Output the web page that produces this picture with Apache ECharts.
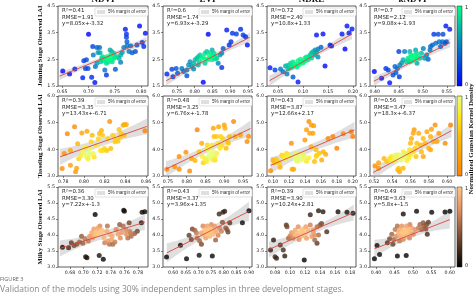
<!DOCTYPE html>
<html>
<head>
<meta charset="utf-8">
<script src="https://cdn.jsdelivr.net/npm/echarts@6/dist/echarts.min.js"></script>
<style>
  html, body { margin: 0; padding: 0; background: #fff; }
  #chart { width: 474px; height: 299px; }
</style>
</head>
<body>
<div id="chart"></div>
<script>
// column / row labels
const indices = ['NDVI', 'EVI', 'NDRE', 'kNDVI'];
const stageNames = ['Jointing Stage Observed LAI', 'Tasseling Stage Observed LAI', 'Milky Stage Observed LAI'];

// y axis per row: [min, max]
const yRanges = [[1.5, 4.5], [3.0, 6.0], [3.0, 5.5]];
const yTicks = [
  [1.5, 2.5, 3.5, 4.5],
  [3.0, 4.0, 5.0, 6.0],
  [3.0, 3.5, 4.0, 4.5, 5.0, 5.5]
];

// x axis per panel (row-major): [min, max]
const xRanges = [
  [0.642, 0.813], [0.711, 0.961], [0.028, 0.206], [0.390, 0.567],
  [0.775, 0.862], [0.737, 0.974], [0.0925, 0.204], [0.5156, 0.6088],
  [0.6624, 0.7947], [0.560, 0.912], [0.0693, 0.188], [0.384, 0.614]
];
const xTicks = [
  [0.65, 0.70, 0.75, 0.80], [0.75, 0.80, 0.85, 0.90, 0.95], [0.05, 0.10, 0.15, 0.20], [0.40, 0.45, 0.50, 0.55],
  [0.78, 0.80, 0.82, 0.84, 0.86], [0.75, 0.80, 0.85, 0.90, 0.95], [0.10, 0.12, 0.14, 0.16, 0.18, 0.20], [0.52, 0.54, 0.56, 0.58, 0.60],
  [0.68, 0.70, 0.72, 0.74, 0.76, 0.78], [0.60, 0.65, 0.70, 0.75, 0.80, 0.85, 0.90], [0.08, 0.10, 0.12, 0.14, 0.16, 0.18], [0.40, 0.45, 0.50, 0.55, 0.60]
];

// stats text
const r2Labels = ['0.41', '0.6', '0.72', '0.7', '0.39', '0.48', '0.43', '0.56', '0.36', '0.43', '0.39', '0.49'];
const rmseLabels = ['1.91', '1.74', '2.40', '2.12', '3.35', '3.25', '3.87', '3.47', '3.30', '3.37', '3.90', '3.63'];
const eqLabels = ['8.05x+-3.32', '6.93x+-3.29', '10.8x+1.33', '9.08x+-1.93',
                  '13.43x+-6.71', '6.76x+-1.78', '12.66x+2.17', '18.3x+-6.37',
                  '7.22x+-1.3', '3.96x+1.35', '10.24x+2.81', '5.8x+-1.5'];

// drawn fit lines [x0, y0, x1, y1] and band half widths [centre, ends]
const fitLines = [
  [0.645, 1.87, 0.810, 3.20], [0.720, 1.70, 0.955, 3.33], [0.033, 1.70, 0.198, 3.45], [0.398, 1.68, 0.557, 3.13],
  [0.777, 3.72, 0.861, 4.86], [0.745, 3.26, 0.970, 4.78], [0.097, 3.40, 0.202, 4.73], [0.519, 3.13, 0.605, 4.70],
  [0.665, 3.58, 0.790, 4.40], [0.575, 3.44, 0.900, 4.74], [0.072, 3.55, 0.185, 4.70], [0.396, 3.57, 0.600, 4.48]
];
const bandWidths = [
  [0.07, 0.15], [0.08, 0.18], [0.08, 0.20], [0.08, 0.18],
  [0.15, 0.30], [0.12, 0.30], [0.15, 0.30], [0.12, 0.25],
  [0.12, 0.25], [0.12, 0.30], [0.10, 0.25], [0.10, 0.28]
];

// observed vs estimated points
const jointNDVI = [[0.651,2.06],[0.664,1.95],[0.674,2.14],[0.689,1.81],[0.691,2.45],[0.694,2.16],[0.696,2.48],[0.699,2.16],[0.700,3.44],[0.706,1.83],[0.708,2.98],[0.709,2.66],[0.712,1.63],[0.716,2.94],[0.718,2.76],[0.721,2.94],[0.722,2.75],[0.716,2.35],[0.723,2.41],[0.727,2.60],[0.731,2.10],[0.734,1.91],[0.732,2.48],[0.735,2.60],[0.739,2.54],[0.742,2.66],[0.734,2.35],[0.745,2.41],[0.748,2.54],[0.751,2.13],[0.741,2.85],[0.744,2.79],[0.748,2.73],[0.754,2.60],[0.758,2.54],[0.761,2.66],[0.764,2.76],[0.761,2.39],[0.767,2.94],[0.770,3.63],[0.772,3.45],[0.772,3.33],[0.773,3.16],[0.773,3.01],[0.777,2.79],[0.780,3.01],[0.783,2.75],[0.789,2.79],[0.792,3.04],[0.797,3.75],[0.802,3.13],[0.805,2.98],[0.808,3.48],[0.713,2.23],[0.728,2.45],[0.738,2.50],[0.743,2.47],[0.725,2.55],[0.737,2.40],[0.750,2.58]];
const jointEVI = [[0.722,1.95],[0.736,2.13],[0.748,2.16],[0.739,1.85],[0.752,1.98],[0.764,2.16],[0.778,2.10],[0.778,1.88],[0.783,2.29],[0.787,2.41],[0.792,2.23],[0.797,2.35],[0.801,2.48],[0.806,2.54],[0.810,2.60],[0.815,2.66],[0.813,2.41],[0.820,2.54],[0.824,2.60],[0.829,2.73],[0.834,2.79],[0.836,2.48],[0.841,2.66],[0.845,2.75],[0.849,2.85],[0.851,2.60],[0.854,2.73],[0.838,3.44],[0.824,1.64],[0.857,2.51],[0.862,2.54],[0.871,2.66],[0.876,2.19],[0.880,2.91],[0.890,3.60],[0.897,3.04],[0.902,3.16],[0.906,3.48],[0.917,3.45],[0.929,3.63],[0.936,3.41],[0.943,3.35],[0.948,3.04],[0.876,2.73],[0.866,2.35],[0.848,2.48],[0.829,2.35],[0.810,2.29],[0.797,2.14],[0.769,2.04],[0.843,2.55],[0.832,2.50],[0.856,2.62]];
const jointNDRE = [[0.034,2.18],[0.044,2.10],[0.055,2.14],[0.060,2.03],[0.068,1.95],[0.074,2.18],[0.078,2.29],[0.080,1.84],[0.088,2.21],[0.090,1.65],[0.094,2.36],[0.097,2.40],[0.100,2.36],[0.104,2.55],[0.107,2.59],[0.110,2.48],[0.114,2.66],[0.117,2.74],[0.120,2.78],[0.124,2.85],[0.127,2.78],[0.130,2.89],[0.127,3.41],[0.117,2.55],[0.124,2.66],[0.130,2.59],[0.140,3.45],[0.144,2.25],[0.154,3.04],[0.157,3.00],[0.178,3.45],[0.184,2.89],[0.188,3.75],[0.192,3.49],[0.198,3.64],[0.070,2.28],[0.075,2.35],[0.080,2.40],[0.085,2.32],[0.090,2.45],[0.085,2.25],[0.078,2.20],[0.092,2.30],[0.095,2.50],[0.100,2.42],[0.070,2.15],[0.065,2.25],[0.112,2.60],[0.105,2.45],[0.136,2.95]];
const jointKNDVI = [[0.399,2.04],[0.414,1.79],[0.423,2.16],[0.428,2.10],[0.431,1.62],[0.438,1.91],[0.442,2.23],[0.444,2.00],[0.447,2.16],[0.451,1.85],[0.452,2.29],[0.456,2.37],[0.459,2.48],[0.462,2.79],[0.466,2.41],[0.469,2.54],[0.473,2.41],[0.475,2.66],[0.476,2.60],[0.480,2.50],[0.483,2.66],[0.485,2.85],[0.487,2.73],[0.488,2.35],[0.490,2.60],[0.494,2.54],[0.497,2.73],[0.501,2.91],[0.504,2.54],[0.508,2.66],[0.511,2.50],[0.515,2.85],[0.516,2.98],[0.520,3.04],[0.523,3.44],[0.527,3.10],[0.532,3.44],[0.534,3.16],[0.537,2.98],[0.541,3.16],[0.542,3.44],[0.546,3.10],[0.549,3.16],[0.548,3.75],[0.556,3.63],[0.473,2.79],[0.450,2.79],[0.478,2.45],[0.482,2.55],[0.470,2.47],[0.486,2.52]];

const tasselNDVI = [[0.779,3.28],[0.781,3.84],[0.784,4.58],[0.787,3.96],[0.787,3.40],[0.791,4.85],[0.792,3.16],[0.793,3.29],[0.794,4.21],[0.795,3.65],[0.798,4.61],[0.799,3.90],[0.801,4.09],[0.802,3.78],[0.803,4.68],[0.804,3.65],[0.806,4.03],[0.807,4.28],[0.808,4.53],[0.809,3.84],[0.810,3.71],[0.812,4.15],[0.814,4.40],[0.815,4.59],[0.816,3.96],[0.817,4.71],[0.818,3.96],[0.818,4.53],[0.820,4.03],[0.822,3.96],[0.823,4.40],[0.825,5.04],[0.826,4.03],[0.828,4.53],[0.830,4.28],[0.831,4.34],[0.833,4.30],[0.834,4.74],[0.835,4.46],[0.836,4.59],[0.838,4.90],[0.839,4.93],[0.841,4.93],[0.839,4.53],[0.859,4.70],[0.797,3.75],[0.800,3.85],[0.803,3.70],[0.806,3.80],[0.799,3.95],[0.805,3.88]];
const tasselEVI = [[0.747,3.25],[0.768,3.35],[0.780,3.73],[0.780,3.25],[0.798,3.89],[0.808,3.19],[0.813,3.66],[0.822,3.58],[0.828,4.73],[0.833,3.91],[0.840,4.23],[0.842,3.73],[0.849,3.66],[0.853,3.98],[0.855,4.16],[0.860,3.85],[0.862,4.04],[0.867,4.16],[0.871,4.79],[0.873,4.48],[0.876,3.60],[0.880,4.48],[0.883,4.23],[0.885,4.85],[0.889,4.04],[0.891,4.48],[0.894,4.16],[0.896,4.41],[0.900,4.91],[0.902,4.79],[0.905,4.04],[0.909,4.29],[0.911,4.23],[0.914,4.48],[0.925,5.04],[0.929,4.48],[0.943,4.54],[0.961,4.29],[0.965,4.48],[0.862,3.66],[0.853,3.54],[0.844,3.50],[0.850,3.60],[0.868,3.80],[0.858,3.72],[0.872,3.90],[0.875,3.70],[0.871,3.60],[0.880,3.85]];
const tasselNDRE = [[0.097,3.20],[0.100,3.60],[0.102,3.50],[0.104,3.63],[0.106,3.54],[0.108,3.48],[0.109,3.33],[0.111,3.79],[0.113,3.73],[0.115,3.66],[0.117,3.85],[0.119,3.79],[0.121,3.73],[0.123,4.23],[0.124,3.25],[0.126,3.25],[0.127,3.73],[0.129,3.85],[0.131,3.60],[0.133,3.73],[0.136,3.79],[0.138,3.66],[0.140,4.35],[0.142,4.73],[0.145,5.04],[0.146,4.60],[0.148,4.10],[0.151,4.88],[0.152,3.54],[0.154,3.73],[0.148,4.91],[0.150,4.60],[0.154,3.98],[0.155,3.79],[0.158,3.85],[0.161,3.60],[0.163,3.91],[0.166,3.82],[0.169,4.41],[0.175,4.48],[0.180,4.04],[0.188,4.58],[0.198,4.66],[0.200,4.48],[0.130,3.55],[0.135,3.60],[0.140,3.70],[0.128,3.65],[0.142,3.55],[0.138,3.80],[0.145,3.68]];
const tasselKNDVI = [[0.521,3.38],[0.525,3.50],[0.525,3.29],[0.531,3.66],[0.534,3.54],[0.537,3.66],[0.538,3.60],[0.539,3.73],[0.541,3.60],[0.543,3.66],[0.544,3.79],[0.546,3.23],[0.547,3.29],[0.548,3.16],[0.549,3.73],[0.550,3.60],[0.552,3.91],[0.552,3.29],[0.554,3.73],[0.556,3.85],[0.558,3.66],[0.559,3.98],[0.560,4.23],[0.560,3.79],[0.561,4.41],[0.563,4.60],[0.563,3.91],[0.564,4.73],[0.565,4.04],[0.566,3.73],[0.567,4.23],[0.569,4.60],[0.571,4.16],[0.572,3.91],[0.574,4.41],[0.574,3.73],[0.576,4.23],[0.578,4.66],[0.580,4.04],[0.582,4.48],[0.582,3.98],[0.583,4.75],[0.585,4.29],[0.587,4.91],[0.589,4.29],[0.591,4.60],[0.598,4.23],[0.604,4.91],[0.545,3.70],[0.548,3.62],[0.552,3.68],[0.556,3.58],[0.550,3.75],[0.542,3.55],[0.558,3.72],[0.547,3.80]];

const milkyNDVI = [[0.669,3.62],[0.678,3.60],[0.682,3.76],[0.686,3.67],[0.690,3.71],[0.694,3.78],[0.697,3.96],[0.699,3.74],[0.702,3.88],[0.703,3.32],[0.705,3.29],[0.707,3.81],[0.709,3.96],[0.712,4.07],[0.713,3.91],[0.715,4.19],[0.717,4.64],[0.718,4.02],[0.720,4.17],[0.721,4.22],[0.723,3.36],[0.724,4.28],[0.726,4.07],[0.729,3.24],[0.730,3.91],[0.731,3.76],[0.734,4.12],[0.735,4.28],[0.736,3.81],[0.738,3.71],[0.739,4.02],[0.741,3.86],[0.742,3.96],[0.743,3.71],[0.746,3.78],[0.748,4.17],[0.751,4.02],[0.753,4.33],[0.754,3.91],[0.756,4.08],[0.758,4.28],[0.759,4.77],[0.760,4.74],[0.762,4.17],[0.763,4.02],[0.765,3.91],[0.767,4.38],[0.768,4.12],[0.769,4.05],[0.770,3.96],[0.775,4.05],[0.779,4.12],[0.785,4.38],[0.786,4.71],[0.790,4.73],[0.719,4.10],[0.722,4.05],[0.727,4.15],[0.716,4.00]];
const milkyEVI = [[0.574,3.31],[0.629,3.68],[0.653,3.26],[0.663,3.99],[0.672,3.86],[0.676,4.19],[0.686,4.15],[0.692,4.07],[0.695,3.91],[0.703,3.37],[0.705,3.81],[0.712,3.71],[0.712,4.07],[0.718,4.28],[0.721,4.02],[0.725,4.17],[0.729,3.91],[0.732,4.12],[0.734,4.28],[0.738,4.05],[0.742,4.22],[0.745,3.96],[0.749,4.12],[0.751,4.33],[0.755,3.34],[0.758,4.02],[0.762,4.17],[0.764,4.28],[0.768,3.84],[0.771,4.10],[0.778,3.99],[0.782,4.66],[0.784,4.22],[0.791,4.12],[0.795,4.40],[0.797,4.71],[0.804,4.74],[0.808,4.22],[0.813,4.17],[0.817,4.09],[0.824,4.38],[0.874,4.38],[0.900,4.76],[0.728,4.10],[0.740,4.15],[0.735,4.00],[0.748,4.05]];
const milkyNDRE = [[0.074,3.53],[0.078,3.84],[0.080,3.32],[0.082,3.27],[0.087,3.69],[0.091,3.53],[0.093,3.34],[0.095,4.31],[0.096,4.26],[0.098,3.90],[0.100,3.97],[0.102,4.07],[0.104,3.90],[0.107,4.16],[0.109,4.00],[0.111,4.26],[0.112,3.86],[0.114,4.10],[0.116,3.97],[0.117,4.18],[0.119,3.22],[0.120,4.05],[0.121,4.26],[0.122,3.90],[0.124,4.16],[0.127,4.63],[0.129,3.95],[0.131,4.16],[0.133,4.00],[0.136,4.26],[0.138,4.76],[0.127,4.31],[0.131,4.10],[0.133,3.84],[0.136,3.74],[0.138,4.00],[0.140,4.31],[0.142,4.36],[0.144,4.73],[0.149,4.10],[0.164,4.73],[0.176,4.71],[0.184,4.68],[0.110,4.05],[0.115,4.12],[0.118,4.02],[0.106,4.02]];
const milkyKNDVI = [[0.396,3.26],[0.403,3.67],[0.410,3.39],[0.431,3.76],[0.437,3.88],[0.443,4.02],[0.446,3.71],[0.449,3.86],[0.452,4.17],[0.455,3.96],[0.458,3.34],[0.458,4.28],[0.461,4.07],[0.464,3.81],[0.465,4.17],[0.467,3.96],[0.470,4.28],[0.473,4.07],[0.474,4.66],[0.474,3.86],[0.477,4.17],[0.479,3.96],[0.482,3.36],[0.483,4.28],[0.485,4.02],[0.488,4.17],[0.491,3.91],[0.492,4.33],[0.494,4.07],[0.497,4.22],[0.501,4.02],[0.506,4.17],[0.510,4.74],[0.515,4.22],[0.519,4.33],[0.524,4.17],[0.528,4.38],[0.530,4.28],[0.535,4.19],[0.537,4.33],[0.539,4.02],[0.542,4.40],[0.551,4.71],[0.587,4.72],[0.600,4.74],[0.470,4.12],[0.476,4.00],[0.480,4.10],[0.486,4.12]];

const panelPoints = [jointNDVI, jointEVI, jointNDRE, jointKNDVI,
                     tasselNDVI, tasselEVI, tasselNDRE, tasselKNDVI,
                     milkyNDVI, milkyEVI, milkyNDRE, milkyKNDVI];

// colormaps (winter, reversed Wistia, copper)
const rowColors = [
  ['#0000ff', '#0080c0', '#00ff80'],
  ['#fc7f00', '#ffa000', '#ffbd00', '#ffe81a', '#e4ff7a'],
  ['#000000', '#503220', '#a0643f', '#ef955f', '#ffc77f']
];

// layout
const colLeft = [58, 163, 267, 370];
const colW = [90, 89, 89, 85];
const rowTop = [6, 96, 187];
const rowH = 80;
const bandName = '5% margin of error';

// normalized gaussian kernel density for colouring
function withDensity(pts, xr, yr) {
  const sx = (xr[1] - xr[0]) * 0.09, sy = (yr[1] - yr[0]) * 0.09;
  const d = pts.map(p => {
    let s = 0;
    pts.forEach(q => {
      const dx = (p[0] - q[0]) / sx, dy = (p[1] - q[1]) / sy;
      s += Math.exp(-0.5 * (dx * dx + dy * dy));
    });
    return s;
  });
  const mx = Math.max(...d), mn = Math.min(...d);
  return pts.map((p, i) => [p[0], p[1], (d[i] - mn) / (mx - mn)])
            .sort((a, b) => a[2] - b[2]);
}

const chart = echarts.init(document.getElementById('chart'));
const grid = [], xAxis = [], yAxis = [], series = [], legend = [], graphic = [];
const scatterIdx = [[], [], []];

for (let r = 0; r < 3; r++) {
  for (let c = 0; c < 4; c++) {
    const i = r * 4 + c;
    grid.push({
      left: colLeft[c], top: rowTop[r], width: colW[c], height: rowH,
      show: true, borderColor: '#333', borderWidth: 0.8, backgroundColor: '#fff'
    });
    xAxis.push({
      type: 'value', gridIndex: i, min: xRanges[i][0], max: xRanges[i][1],
      axisLine: { show: false },
      axisTick: { show: true, length: 2, customValues: xTicks[i], lineStyle: { color: '#333', width: 0.6 } },
      axisLabel: { customValues: xTicks[i], fontSize: 4.7, margin: 3, color: '#222',
                   fontFamily: 'DejaVu Sans', formatter: v => v.toFixed(2) },
      splitLine: { show: false }
    });
    yAxis.push({
      type: 'value', gridIndex: i, min: yRanges[r][0], max: yRanges[r][1],
      axisLine: { show: false },
      axisTick: { show: true, length: 2, customValues: yTicks[r], lineStyle: { color: '#333', width: 0.6 } },
      axisLabel: { customValues: yTicks[r], fontSize: 4.8, margin: 3, color: '#222',
                   fontFamily: 'DejaVu Sans', formatter: v => v.toFixed(1) },
      splitLine: { show: false },
      name: c === 0 ? stageNames[r] : '',
      nameLocation: 'middle', nameGap: 12,
      nameTextStyle: { fontFamily: 'Liberation Serif', fontWeight: 'bold', fontSize: 6.5, color: '#111' }
    });

    const fl = fitLines[i], bw = bandWidths[i];
    series.push({
      type: 'custom', name: bandName, xAxisIndex: i, yAxisIndex: i, z: 1, silent: true,
      itemStyle: { color: 'rgba(185,185,185,0.45)' },
      data: [[fl[0], fl[1]]],
      renderItem: (params, api) => {
        const upper = [], lower = [];
        const n = 24, xm = (fl[0] + fl[2]) / 2, half = (fl[2] - fl[0]) / 2;
        for (let k = 0; k <= n; k++) {
          const x = fl[0] + (fl[2] - fl[0]) * k / n;
          const y = fl[1] + (fl[3] - fl[1]) * k / n;
          const t = (x - xm) / half;
          const h = bw[0] + (bw[1] - bw[0]) * t * t;
          upper.push(api.coord([x, y + h]));
          lower.unshift(api.coord([x, y - h]));
        }
        return { type: 'polygon', shape: { points: upper.concat(lower) },
                 style: { fill: 'rgba(185,185,185,0.45)' } };
      }
    });
    scatterIdx[r].push(series.length);
    series.push({
      type: 'scatter', xAxisIndex: i, yAxisIndex: i, z: 2, symbolSize: 5,
      data: withDensity(panelPoints[i], xRanges[i], yRanges[r])
    });
    series.push({
      type: 'line', xAxisIndex: i, yAxisIndex: i, z: 3, silent: true, symbol: 'none',
      lineStyle: { color: '#e0443e', width: 0.9 },
      data: [[fl[0], fl[1]], [fl[2], fl[3]]]
    });

    legend.push({
      left: colLeft[c] + colW[c] - 53, top: rowTop[r] + 2,
      data: [{ name: bandName, icon: 'rect' }],
      itemWidth: 8, itemHeight: 4, itemGap: 2, selectedMode: false,
      padding: [1.5, 2, 1.5, 2], borderColor: '#ccc', borderWidth: 0.6, borderRadius: 1,
      backgroundColor: '#fff',
      textStyle: { fontSize: 4.6, color: '#333', fontFamily: 'Liberation Sans', padding: [0, 0, 0, -2] }
    });

    const sx = colLeft[c] + 4, sy = rowTop[r] + 5;
    [`R²=${r2Labels[i]}`, `RMSE=${rmseLabels[i]}`, `y=${eqLabels[i]}`].forEach((t, k) => {
      graphic.push({ type: 'text', left: sx, top: sy + k * 6.7 - 3, z: 10,
        style: { text: t, fontSize: 5.4, fontFamily: 'DejaVu Sans', fill: '#222' } });
    });
  }
}

// column titles (clipped at the top edge)
indices.forEach((t, c) => {
  graphic.push({ type: 'text', x: colLeft[c] + colW[c] / 2, y: 4.5, z: 10,
    style: { text: t, fontSize: 9, fontWeight: 'bold', fontFamily: 'Liberation Serif',
             fill: '#111', align: 'center', verticalAlign: 'bottom' } });
});

// colorbars
rowColors.forEach((cols, r) => {
  graphic.push({
    type: 'rect', shape: { x: 457, y: rowTop[r], width: 5, height: rowH }, z: 10,
    style: {
      fill: new echarts.graphic.LinearGradient(0, 1, 0, 0,
        cols.map((col, k) => ({ offset: k / (cols.length - 1), color: col }))),
      stroke: '#222', lineWidth: 0.5
    }
  });
  graphic.push({ type: 'text', x: 465, y: rowTop[r] + 2, z: 10,
    style: { text: '1', fontSize: 5, fontFamily: 'DejaVu Sans', fill: '#222', verticalAlign: 'middle' } });
  graphic.push({ type: 'text', x: 465, y: rowTop[r] + rowH - 1, z: 10,
    style: { text: '0', fontSize: 5, fontFamily: 'DejaVu Sans', fill: '#222', verticalAlign: 'middle' } });
});
graphic.push({ type: 'text', x: 471, y: 139, rotation: Math.PI / 2, z: 10,
  style: { text: 'Normalized Gaussian Kernel Density', fontSize: 7, fontWeight: 'bold',
           fontFamily: 'Liberation Serif', fill: '#111', align: 'center', verticalAlign: 'middle' } });

// caption
graphic.push({ type: 'text', left: 0, top: 276, z: 10,
  style: { text: 'FIGURE 3', fontSize: 5.5, fontFamily: 'Open Sans', fill: '#666' } });
graphic.push({ type: 'text', left: 0, top: 285, z: 10,
  style: { text: 'Validation of the models using 30% independent samples in three development stages.',
           fontSize: 8.5, fontFamily: 'Open Sans', fill: '#888' } });

chart.setOption({
  animation: false,
  grid, xAxis, yAxis, series, legend, graphic,
  visualMap: rowColors.map((cols, r) => ({
    show: false, type: 'continuous', min: 0, max: 1, dimension: 2,
    seriesIndex: scatterIdx[r], inRange: { color: cols }
  }))
});
</script>
</body>
</html>
